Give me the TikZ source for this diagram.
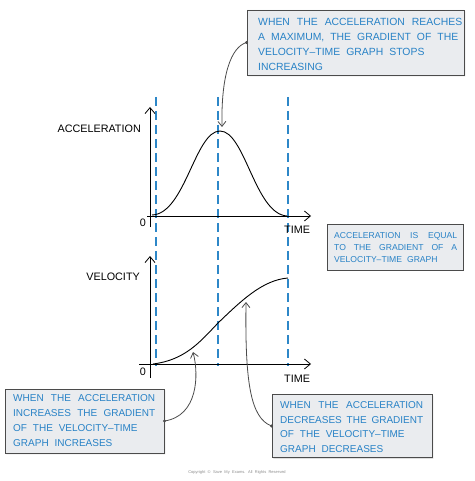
\documentclass[tikz,border=0pt]{standalone}
\usepackage{fontspec}
\setmainfont{Liberation Sans}
\newfontfamily\boxfont[WordSpace=2.1,Ligatures=TeX]{Liberation Sans}
\usetikzlibrary{arrows.meta,shapes.misc,shadows}
\definecolor{txtblue}{RGB}{40,130,198}
\definecolor{dashblue}{RGB}{45,135,200}
\definecolor{boxfill}{RGB}{234,236,239}
\definecolor{boxline}{RGB}{75,75,75}
\newcommand\jline[2]{\makebox[#1][s]{#2}}
\begin{document}
\begin{tikzpicture}[x=1pt,y=-1pt,
  box/.style={draw=boxline, line width=0.9pt, fill=boxfill, inner sep=0pt,
    drop shadow={shadow xshift=1.3pt, shadow yshift=-1.3pt, fill=black!25, opacity=0.5}},
  cbox/.style={box, chamfered rectangle, chamfered rectangle xsep=7pt, chamfered rectangle ysep=7pt},
  btxt/.style={inner sep=0pt, anchor=north west, align=left, text=txtblue},
  axis/.style={line width=0.8pt, -{Straight Barb[length=6pt,width=10pt,line width=0.8pt]}},
  curve/.style={line width=0.9pt},
  vdash/.style={dashblue, line width=1.4pt, dash pattern=on 9pt off 5pt},
  callout/.style={draw=boxline, line width=0.8pt, -{Straight Barb[length=5pt,width=8pt,line width=0.8pt]}},
  lbl/.style={inner sep=0pt, font=\fontsize{10.8}{12}\selectfont},
  dot/.style={fill=boxline}
]
\useasboundingbox (0,0) rectangle (474,481);

% dashed guide lines
\foreach \x/\n in {156/a,218/b,288/c}
  \draw[vdash] (\x,97) coordinate (d\n top) -- (\x,366) coordinate (d\n bot);

% acceleration graph
\draw[axis] (150,227) coordinate (y1b) -- (150,107) coordinate (y1t);
\draw[axis] (147,216) coordinate (x1b) -- (311,216) coordinate (x1t);
\node[lbl, anchor=east] (alab) at (141,129) {ACCELERATION};
\node[lbl] (zero1) at (143,223) {0};
\node[lbl, anchor=west] (time1) at (284,230) {TIME};
\coordinate (peak) at (220,131);
\draw[curve] (152,215) .. controls (185,214) and (195,131) .. (peak)
  .. controls (245,131) and (255,214) .. (287,216);

% velocity graph
\draw[axis] (150,378) coordinate (y2b) -- (150,256) coordinate (y2t);
\draw[axis] (139,364) coordinate (x2b) -- (311,364) coordinate (x2t);
\node[lbl, anchor=east] (vlab) at (140,277) {VELOCITY};
\node[lbl] (zero2) at (143,372) {0};
\node[lbl, anchor=west] (time2) at (284,379) {TIME};
\coordinate (infl) at (218,323);
\draw[curve] (153,364) .. controls (185,360) and (200,342) .. (infl)
  .. controls (240,302) and (262,280) .. (288,278);
\coordinate (vtip1) at (193,352);
\coordinate (vtip2) at (246,302);

% top box
\node[cbox, chamfered rectangle corners={north west,south west},
  minimum width=217pt, minimum height=65pt] (tbox) at (355.5,42.5) {};
\node[btxt, font=\boxfont\fontsize{10.4}{15}\selectfont] (ttext) at (258,18.5)
  {\jline{204pt}{WHEN THE ACCELERATION REACHES}\\
   \jline{200pt}{A MAXIMUM, THE GRADIENT OF THE}\\
   VELOCITY--TIME GRAPH STOPS\\
   INCREASING};
\fill[dot] (tbox.west) circle (1.6pt);
\draw[callout] (tbox.west) .. controls (231,47) and (221,75) .. (222,127);

% middle box
\node[box, rectangle, minimum width=136pt, minimum height=46pt] (mbox) at (395,247) {};
\node[btxt, font=\boxfont\fontsize{8.6}{12}\selectfont] (mtext) at (334,232.5)
  {\jline{123pt}{ACCELERATION IS EQUAL}\\
   \jline{123pt}{TO THE GRADIENT OF A}\\
   VELOCITY--TIME GRAPH};

% bottom left box
\node[cbox, chamfered rectangle corners={north east},
  minimum width=159pt, minimum height=64pt] (lbox) at (84.5,421) {};
\node[btxt, font=\boxfont\fontsize{10}{15}\selectfont] (ltext) at (13,394.5)
  {\jline{142pt}{WHEN THE ACCELERATION}\\
   \jline{142pt}{INCREASES THE GRADIENT}\\
   OF THE VELOCITY--TIME\\
   GRAPH INCREASES};
\fill[dot] (lbox.east) circle (1.6pt);
\draw[callout] (lbox.east) .. controls (198,416) and (199,375) .. (vtip1);

% bottom right box
\node[cbox, chamfered rectangle corners={north west,south west},
  minimum width=160pt, minimum height=63pt] (rbox) at (352,426) {};
\node[btxt, font=\boxfont\fontsize{10}{14.5}\selectfont] (rtext) at (280,401.5)
  {\jline{143pt}{WHEN THE ACCELERATION}\\
   \jline{143pt}{DECREASES THE GRADIENT}\\
   OF THE VELOCITY--TIME\\
   GRAPH DECREASES};
\fill[dot] (rbox.west) circle (1.6pt);
\draw[callout] (rbox.west) .. controls (250,418) and (245,380) .. (vtip2);

% copyright
\node[inner sep=0pt, text=black!45, font=\fontsize{4}{5}\selectfont] (copy) at (237,472)
  {Copyright \copyright{} Save My Exams. All Rights Reserved};
\end{tikzpicture}
\end{document}
